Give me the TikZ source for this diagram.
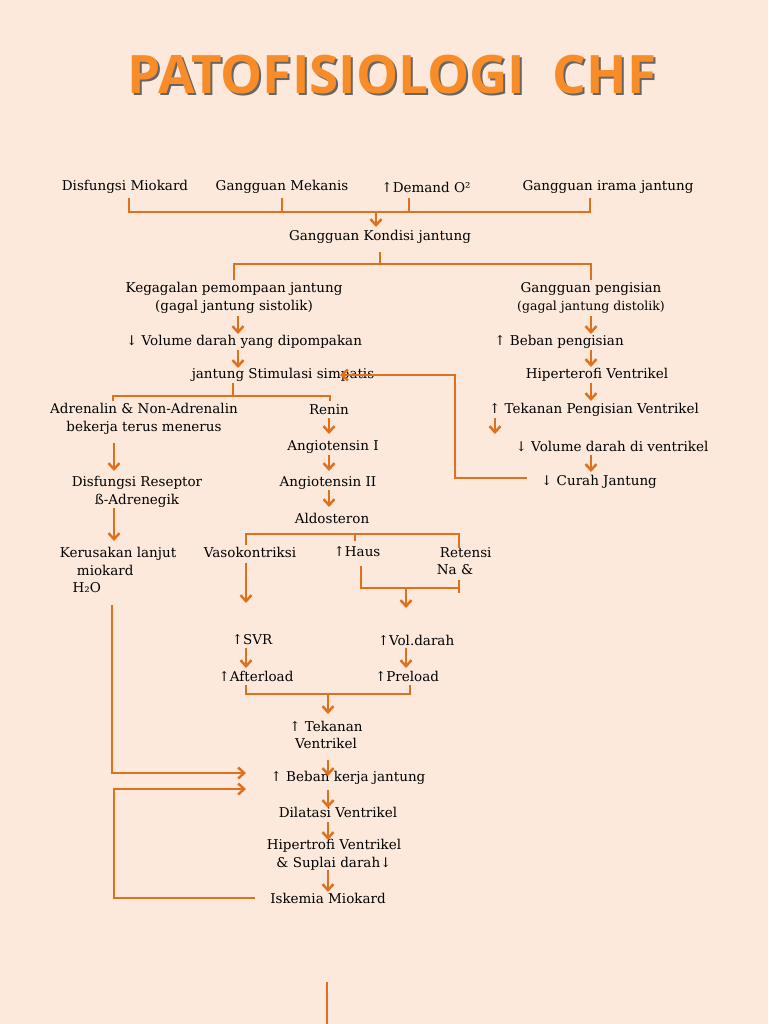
\documentclass[tikz,border=0pt]{standalone}
\usepackage{fontspec}
\setmainfont{DejaVu Serif}
\newfontfamily\titlefont{Open Sans}
\usetikzlibrary{arrows.meta}
\definecolor{bgpeach}{RGB}{252,233,219}
\definecolor{lineor}{RGB}{222,112,30}
\definecolor{titleor}{RGB}{247,140,40}
\tikzset{
  txt/.style={inner sep=1pt, font=\fontsize{13.5}{17.5}\selectfont, align=center},
  ln/.style={draw=lineor, line width=2.5pt},
  arr/.style={ln, -{Straight Barb[length=6pt,width=11pt,line width=2.5pt]}}
}
\begin{document}
\begin{tikzpicture}[x=1pt, y=-1pt]
      \fill[bgpeach] (0,0) rectangle (768,1024);
      \useasboundingbox (0,0) rectangle (768,1024);
      \node[font=\titlefont\bfseries\fontsize{53}{56}\selectfont, text=black!60] (shadow) at (394,77) {PATOFISIOLOGI\ \ CHF};
      \node[font=\titlefont\bfseries\fontsize{53}{56}\selectfont, text=titleor] (title) at (392,75) {PATOFISIOLOGI\ \ CHF};

      % top row
      \node[txt] (disf) at (125,187) {Disfungsi Miokard};
      \node[txt] (meka) at (282,187) {Gangguan Mekanis};
      \node[txt] (dema) at (426,187) {↑Demand O²};
      \node[txt] (iram) at (608,187) {Gangguan irama jantung};
      \node[txt] (kond) at (380,237) {Gangguan Kondisi jantung};

      % left branch
      \node[txt] (gaga) at (234,298) {Kegagalan pemompaan jantung\\(gagal jantung sistolik)};
      \node[txt] (volu) at (244,342) {↓ Volume darah yang dipompakan};
      \node[txt] (stim) at (283,375) {jantung Stimulasi simpatis};

      % right branch
      \node[txt] (peng) at (591,298) {Gangguan pengisian\\{\fontsize{12.5}{15}\selectfont(gagal jantung distolik)}};
      \node[txt] (beba) at (559,342) {↑ Beban pengisian};
      \node[txt] (hipe) at (597,375) {Hiperterofi Ventrikel};
      \node[txt] (teka) at (594,410) {↑ Tekanan Pengisian Ventrikel};
      \node[txt] (vven) at (612,447) {↓ Volume darah di ventrikel};
      \node[txt] (cura) at (599,482) {↓ Curah Jantung};

      % simpatis side
      \node[txt] (adre) at (144,419) {Adrenalin \& Non-Adrenalin\\bekerja terus menerus};
      \node[txt] (rese) at (137,492) {Disfungsi Reseptor\\ß-Adrenegik};
      \node[txt, align=left] (keru) at (118,570) {Kerusakan lanjut\\\ \ \ \ miokard\\\ \ \ H₂O};
      \node[txt] (reni) at (329,410) {Renin};
      \node[txt] (ang1) at (333,447) {Angiotensin I};
      \node[txt] (ang2) at (328,483) {Angiotensin II};
      \node[txt] (aldo) at (332,518) {Aldosteron};

      \node[txt] (vaso) at (250,552) {Vasokontriksi};
      \node[txt] (haus) at (357,552) {↑Haus};
      \node[txt] (rete) at (455,561) {\ \ \ \ \ Retensi\\Na \&};
      \node[txt] (svr) at (252,640) {↑SVR};
      \node[txt] (vold) at (416,640) {↑Vol.darah};
      \node[txt] (afte) at (256,676) {↑Afterload};
      \node[txt] (prel) at (407,676) {↑Preload};
      \node[txt] (tven) at (326,735) {↑ Tekanan\\Ventrikel};
      \node[txt] (bker) at (348,778) {↑ Beban kerja jantung};
      \node[txt] (dila) at (338,812) {Dilatasi Ventrikel};
      \node[txt] (hsup) at (334,855) {Hipertrofi Ventrikel\\\& Suplai darah↓};
      \node[txt] (iske) at (328,898) {Iskemia Miokard};

      \coordinate (busa) at (376,212);
      \coordinate (busb) at (380,264);
      \coordinate (busc) at (233,396);
      \coordinate (busd) at (355,534);
      \coordinate (buse) at (406,588);
      \coordinate (busf) at (328,694);
      \coordinate (fbin) at (246,773);
      \coordinate (fbin2) at (246,789);
      \coordinate (endl) at (327,982);

      % top bus
      \draw[ln] (129,198) |- (590,212) -- (590,198);
      \draw[ln] (282,198) -- (282,212);
      \draw[ln] (409,198) -- (409,212);
      \draw[arr] (busa) -- (376,227);
      \draw[ln] (380,252) -- (busb);
      \draw[ln] (234,280) |- (591,264) -- (591,280);

      \draw[arr] (238,316) -- (238,334);
      \draw[arr] (238,350) -- (238,368);
      \draw[arr] (591,316) -- (591,334);
      \draw[arr] (591,350) -- (591,367);
      \draw[arr] (591,383) -- (591,401);
      \draw[arr] (495,418) -- (495,434);
      \draw[arr] (591,455) -- (591,472);
      \draw[arr] (527,478) -| (455,375) -- (340,375);

      % simpatis bus
      \draw[ln] (233,383) -- (busc);
      \draw[ln] (113,401) |- (330,396) -- (330,401);
      \draw[arr] (114,443) -- (114,471);
      \draw[arr] (114,508) -- (114,541);
      \draw[arr] (329,418) -- (329,434);
      \draw[arr] (329,455) -- (329,471);
      \draw[arr] (329,490) -- (329,507);

      \draw[ln] (246,545) |- (459,534) -- (459,548);
      \draw[ln] (busd) -- (355,541);
      \draw[arr] (246,563) -- (246,603);
      \draw[ln] (361,566) |- (459,588) -- (459,580);
      \draw[ln] (459,588) -- (459,593);
      \draw[arr] (buse) -- (406,608);

      \draw[arr] (246,648) -- (246,668);
      \draw[arr] (406,648) -- (406,668);
      \draw[ln] (246,685) |- (410,694) -- (410,685);
      \draw[arr] (busf) -- (328,714);
      \draw[arr] (328,760) -- (328,776);
      \draw[arr] (328,790) -- (328,808);
      \draw[arr] (328,822) -- (328,840);
      \draw[arr] (328,870) -- (328,892);

      \draw[arr] (112,605) |- (fbin);
      \draw[arr] (255,898) -| (114,789) -- (fbin2);
      \draw[ln] (endl) -- (327,1024);
\end{tikzpicture}
\end{document}
